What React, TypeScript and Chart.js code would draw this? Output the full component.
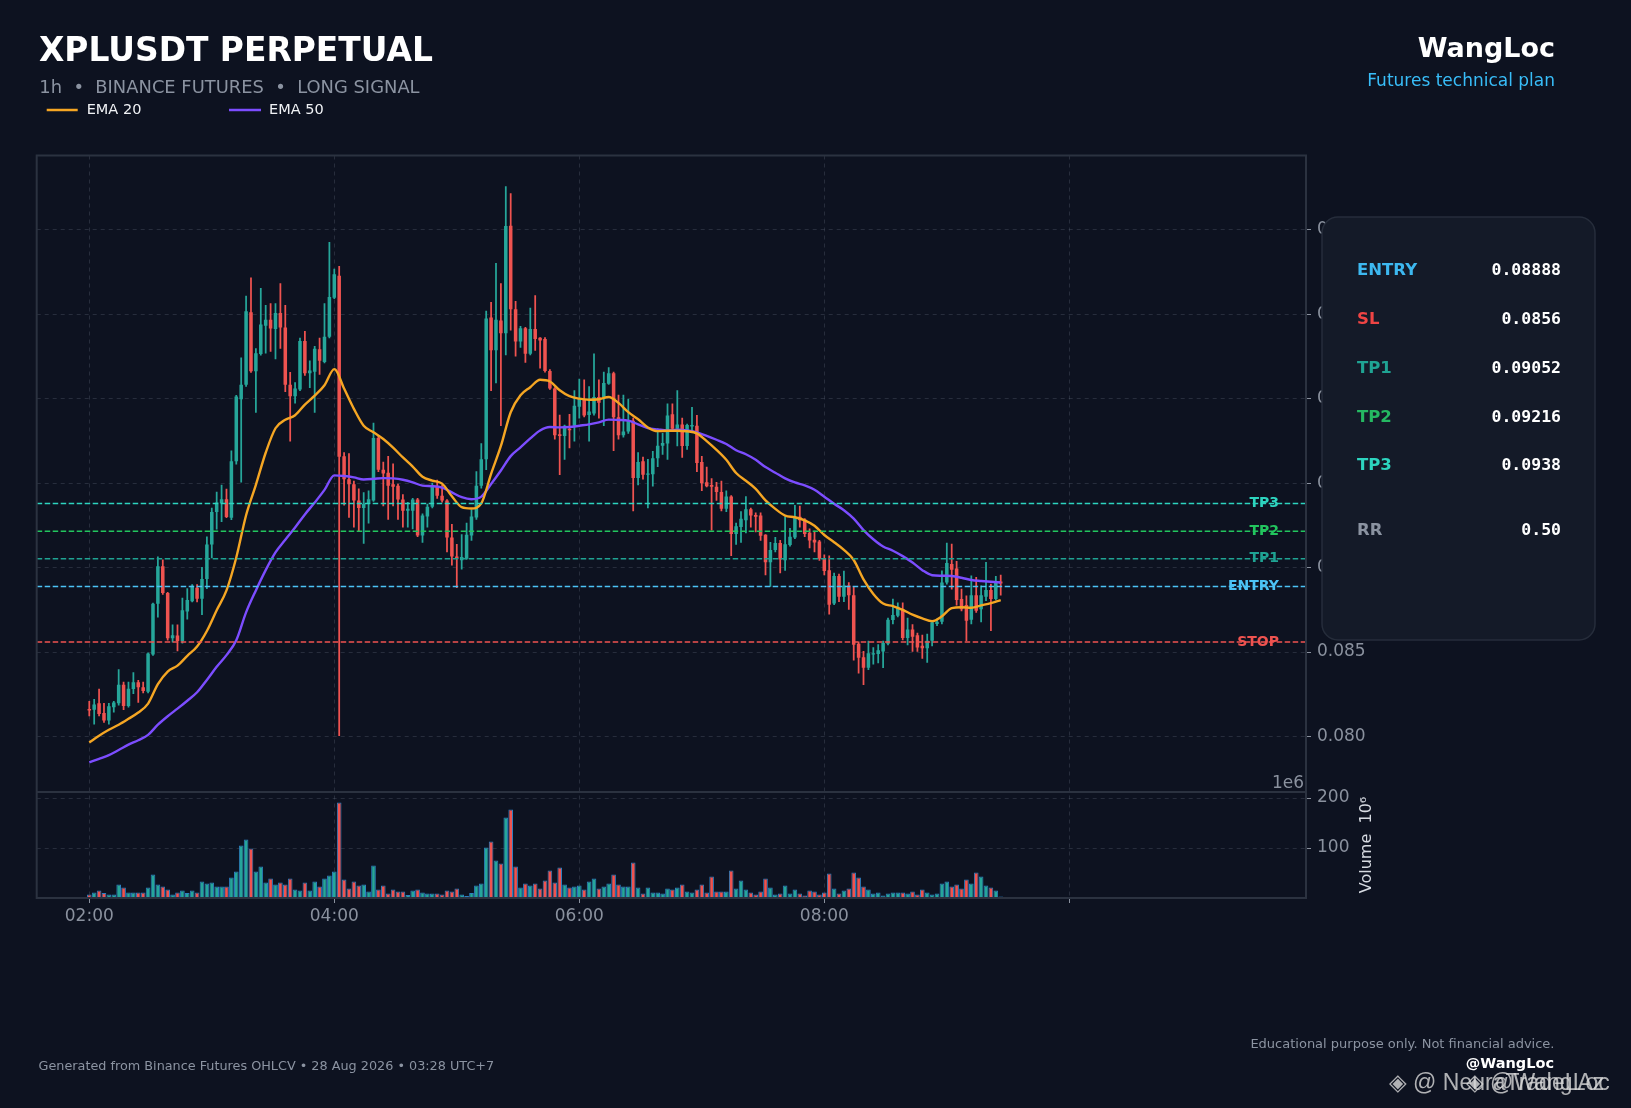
import React, { useEffect, useRef } from 'react';
import { Chart, registerables } from 'chart.js';

Chart.register(...registerables);

// ---------------- DATA ----------------
const opens = [
  0.08163,0.08159,0.08197,0.08140,0.08095,0.08174,0.08197,0.08306,0.08181,0.08281,
  0.08322,0.08292,0.08265,0.08485,0.08786,0.09008,0.08849,0.08582,0.08598,0.08566,
  0.08740,0.08801,0.08881,0.08815,0.08933,0.09137,0.09329,0.09381,0.09404,0.09295,
  0.09630,0.09997,0.10083,0.10511,0.10162,0.10264,0.10432,0.10468,0.10412,0.10507,
  0.10421,0.10083,0.10015,0.10054,0.10341,0.10151,0.10160,0.10292,0.10217,0.10366,
  0.10597,0.10728,0.09659,0.09523,0.09494,0.09398,0.09353,0.09376,0.09398,0.09767,
  0.09580,0.09561,0.09494,0.09484,0.09403,0.09337,0.09337,0.09403,0.09190,0.09303,
  0.09360,0.09478,0.09426,0.09398,0.09179,0.09066,0.09043,0.09052,0.09190,0.09297,
  0.09484,0.09641,0.10481,0.10286,0.10463,0.10388,0.11024,0.10530,0.10338,0.10417,
  0.10266,0.10413,0.10361,0.10354,0.10164,0.10060,0.09790,0.09779,0.09822,0.09840,
  0.09953,0.09998,0.09903,0.09912,0.10010,0.10010,0.10089,0.10150,0.09890,0.09783,
  0.09806,0.09869,0.09530,0.09629,0.09550,0.09552,0.09647,0.09722,0.09734,0.09908,
  0.09822,0.09847,0.09720,0.09835,0.09840,0.09625,0.09505,0.09489,0.09478,0.09448,
  0.09349,0.09421,0.09199,0.09240,0.09281,0.09346,0.09312,0.09308,0.09195,0.09032,
  0.09104,0.09145,0.09043,0.09134,0.09179,0.09301,0.09285,0.09206,0.09165,0.09154,
  0.09052,0.08984,0.08787,0.08950,0.08828,0.08894,0.08837,0.08549,0.08470,0.08407,
  0.08486,0.08488,0.08504,0.08549,0.08690,0.08715,0.08753,0.08583,0.08633,0.08599,
  0.08537,0.08522,0.08567,0.08666,0.08679,0.08912,0.09021,0.08995,0.08814,0.08778,
  0.08691,0.08837,0.08754,0.08827,0.08867,0.08814,0.08918,
];
const highs = [
  0.08208,0.08220,0.08281,0.08197,0.08197,0.08208,0.08396,0.08322,0.08322,0.08378,
  0.08333,0.08322,0.08496,0.08790,0.09064,0.09046,0.08854,0.08661,0.08661,0.08820,
  0.08876,0.08899,0.08899,0.09001,0.09182,0.09352,0.09447,0.09488,0.09465,0.09691,
  0.10020,0.10242,0.10608,0.10715,0.10296,0.10654,0.10552,0.10563,0.10563,0.10681,
  0.10552,0.10156,0.10095,0.10359,0.10398,0.10224,0.10310,0.10359,0.10563,0.10925,
  0.10767,0.10783,0.09681,0.09675,0.09512,0.09466,0.09444,0.09455,0.09856,0.09783,
  0.09625,0.09659,0.09614,0.09494,0.09432,0.09387,0.09410,0.09410,0.09319,0.09376,
  0.09500,0.09518,0.09489,0.09403,0.09256,0.09138,0.09195,0.09263,0.09342,0.09568,
  0.09734,0.10519,0.10571,0.10802,0.10682,0.11255,0.11214,0.10576,0.10429,0.10422,
  0.10537,0.10610,0.10361,0.10361,0.10173,0.10066,0.09903,0.09844,0.09908,0.10048,
  0.10116,0.10112,0.10071,0.10266,0.10112,0.10157,0.10184,0.10157,0.10021,0.10021,
  0.09998,0.09885,0.09681,0.09654,0.09641,0.09688,0.09822,0.09795,0.09969,0.09969,
  0.10048,0.09885,0.09850,0.09949,0.09901,0.09659,0.09595,0.09527,0.09505,0.09512,
  0.09455,0.09426,0.09263,0.09331,0.09421,0.09353,0.09324,0.09324,0.09195,0.09149,
  0.09179,0.09161,0.09301,0.09233,0.09369,0.09364,0.09290,0.09229,0.09217,0.09161,
  0.09075,0.09070,0.08968,0.08962,0.08980,0.08912,0.08889,0.08561,0.08504,0.08565,
  0.08527,0.08545,0.08565,0.08701,0.08814,0.08792,0.08792,0.08701,0.08663,0.08613,
  0.08601,0.08607,0.08685,0.08695,0.08981,0.09145,0.09139,0.09037,0.08873,0.08833,
  0.08951,0.08942,0.08892,0.09031,0.08902,0.08948,0.08956,
];
const lows = [
  0.08122,0.08073,0.08122,0.08084,0.08073,0.08145,0.08186,0.08159,0.08174,0.08254,
  0.08202,0.08258,0.08258,0.08480,0.08706,0.08842,0.08571,0.08559,0.08507,0.08553,
  0.08695,0.08797,0.08797,0.08722,0.08876,0.09057,0.09227,0.09272,0.09295,0.09284,
  0.09612,0.09506,0.10072,0.10156,0.09918,0.10257,0.10269,0.10280,0.10235,0.10298,
  0.10042,0.09748,0.09974,0.10047,0.10137,0.10065,0.09918,0.10144,0.10212,0.10359,
  0.10592,0.08005,0.09369,0.09297,0.09240,0.09217,0.09143,0.09263,0.09392,0.09568,
  0.09365,0.09285,0.09365,0.09285,0.09240,0.09240,0.09229,0.09183,0.09149,0.09240,
  0.09353,0.09410,0.09387,0.09093,0.09014,0.08882,0.08991,0.09048,0.09161,0.09285,
  0.09471,0.09580,0.10048,0.10094,0.09840,0.10259,0.10406,0.10252,0.10304,0.10214,
  0.10259,0.10286,0.10180,0.10157,0.10055,0.09761,0.09550,0.09641,0.09709,0.09749,
  0.09885,0.09892,0.09749,0.09903,0.09885,0.09840,0.10084,0.09693,0.09761,0.09772,
  0.09795,0.09335,0.09489,0.09523,0.09353,0.09482,0.09598,0.09670,0.09641,0.09806,
  0.09720,0.09652,0.09700,0.09806,0.09568,0.09455,0.09478,0.09222,0.09398,0.09335,
  0.09331,0.09070,0.09138,0.09149,0.09206,0.09240,0.09211,0.09161,0.08957,0.08889,
  0.09093,0.08968,0.08984,0.09127,0.09172,0.09240,0.09183,0.09116,0.09093,0.09043,
  0.08957,0.08724,0.08780,0.08798,0.08798,0.08753,0.08452,0.08375,0.08307,0.08396,
  0.08429,0.08436,0.08407,0.08543,0.08667,0.08708,0.08572,0.08543,0.08504,0.08504,
  0.08463,0.08439,0.08537,0.08656,0.08666,0.08902,0.08873,0.08778,0.08744,0.08567,
  0.08666,0.08735,0.08679,0.08804,0.08626,0.08809,0.08837,
];
const closes = [
  0.08154,0.08190,0.08134,0.08095,0.08179,0.08202,0.08306,0.08181,0.08283,0.08322,
  0.08292,0.08270,0.08491,0.08786,0.09008,0.08849,0.08582,0.08600,0.08566,0.08747,
  0.08808,0.08892,0.08815,0.08933,0.09137,0.09329,0.09386,0.09404,0.09300,0.09630,
  0.10013,0.10083,0.10518,0.10162,0.10269,0.10439,0.10468,0.10416,0.10507,0.10421,
  0.10083,0.10015,0.10061,0.10341,0.10151,0.10167,0.10296,0.10224,0.10366,0.10602,
  0.10737,0.09657,0.09523,0.09494,0.09398,0.09353,0.09376,0.09405,0.09767,0.09580,
  0.09557,0.09484,0.09478,0.09403,0.09337,0.09349,0.09403,0.09190,0.09308,0.09360,
  0.09478,0.09426,0.09398,0.09179,0.09066,0.09052,0.09063,0.09195,0.09303,0.09484,
  0.09641,0.10474,0.10286,0.10467,0.10388,0.11022,0.10530,0.10338,0.10417,0.10266,
  0.10413,0.10354,0.10345,0.10164,0.10060,0.09783,0.09779,0.09840,0.09813,0.09958,
  0.09998,0.09901,0.09924,0.10010,0.09976,0.10093,0.10150,0.09890,0.09783,0.09806,
  0.09869,0.09530,0.09625,0.09550,0.09557,0.09647,0.09722,0.09738,0.09901,0.09822,
  0.09847,0.09720,0.09844,0.09844,0.09620,0.09500,0.09482,0.09478,0.09448,0.09349,
  0.09421,0.09199,0.09245,0.09290,0.09346,0.09308,0.09301,0.09188,0.09032,0.09104,
  0.09145,0.09048,0.09138,0.09183,0.09297,0.09281,0.09199,0.09161,0.09149,0.09052,
  0.08980,0.08780,0.08950,0.08828,0.08894,0.08837,0.08543,0.08466,0.08407,0.08493,
  0.08493,0.08511,0.08554,0.08692,0.08719,0.08769,0.08583,0.08633,0.08590,0.08527,
  0.08522,0.08567,0.08676,0.08679,0.08912,0.09027,0.08987,0.08809,0.08754,0.08685,
  0.08837,0.08744,0.08837,0.08867,0.08814,0.08912,0.08906,
];
// volume in millions
const volumeM = [
  7,11,15,10,7,7,27,21,11,11,
  11,11,21,47,27,23,17,7,11,15,
  10,15,11,33,29,31,23,23,23,41,
  53,105,117,99,53,63,31,39,27,31,
  27,39,17,15,31,15,33,23,39,45,
  53,191,37,19,33,25,27,13,65,17,
  25,9,17,13,13,6,15,17,11,9,
  9,9,7,15,13,19,7,4,10,25,
  29,101,113,75,69,161,177,63,21,29,
  25,29,19,35,55,31,61,27,21,23,
  25,17,33,39,19,23,29,47,27,23,
  23,71,21,9,21,11,11,9,19,17,
  21,27,13,11,17,27,11,43,13,13,
  13,55,19,35,17,11,7,13,39,21,
  7,9,25,9,17,9,5,15,13,7,
  11,49,19,9,15,19,51,41,23,17,
  9,11,5,9,11,11,11,9,13,7,
  17,11,7,9,29,33,23,27,19,37,
  29,51,43,25,21,15,3,
];
// EMA values read every 2nd candle (candle index = 2 * k)
const ema20 = [
  0.07965,0.08005,0.08040,0.08070,0.08105,0.08142,0.08195,0.08310,0.08385,0.08420,
  0.08478,0.08533,0.08625,0.08748,0.08865,0.09060,0.09310,0.09490,0.09680,0.09825,
  0.09875,0.09902,0.09965,0.10018,0.10080,0.10175,0.10060,0.09940,0.09840,0.09801,
  0.09761,0.09710,0.09652,0.09598,0.09538,0.09515,0.09497,0.09422,0.09358,0.09350,
  0.09380,0.09555,0.09720,0.09920,0.10020,0.10068,0.10112,0.10102,0.10050,0.10015,
  0.10000,0.09994,0.09997,0.10010,0.09975,0.09920,0.09878,0.09830,0.09808,0.09810,
  0.09810,0.09807,0.09795,0.09749,0.09697,0.09638,0.09560,0.09514,0.09466,0.09398,
  0.09348,0.09308,0.09298,0.09280,0.09248,0.09193,0.09150,0.09105,0.09045,0.08930,
  0.08844,0.08787,0.08772,0.08750,0.08722,0.08700,0.08683,0.08712,0.08760,0.08765,
  0.08762,0.08776,0.08790,0.08808,
];
const ema50 = [
  0.07847,0.07868,0.07890,0.07920,0.07952,0.07978,0.08010,0.08070,0.08120,0.08165,
  0.08212,0.08262,0.08335,0.08413,0.08482,0.08570,0.08735,0.08865,0.08985,0.09090,
  0.09165,0.09238,0.09315,0.09385,0.09460,0.09546,0.09542,0.09534,0.09522,0.09525,
  0.09530,0.09528,0.09520,0.09505,0.09485,0.09482,0.09474,0.09445,0.09417,0.09405,
  0.09420,0.09495,0.09575,0.09660,0.09712,0.09765,0.09812,0.09832,0.09830,0.09832,
  0.09840,0.09848,0.09860,0.09876,0.09874,0.09870,0.09848,0.09826,0.09818,0.09812,
  0.09816,0.09812,0.09800,0.09780,0.09757,0.09732,0.09695,0.09671,0.09638,0.09595,
  0.09562,0.09528,0.09504,0.09487,0.09461,0.09420,0.09378,0.09340,0.09290,0.09222,
  0.09168,0.09125,0.09100,0.09068,0.09030,0.08985,0.08955,0.08952,0.08950,0.08940,
  0.08927,0.08921,0.08916,0.08912,
];
const xTickIdx = [0, 50, 100, 150, 200];
const xTickLabels = ['02:00', '04:00', '06:00', '08:00', ''];
const priceTicks = [0.08, 0.085, 0.09, 0.095, 0.1, 0.105, 0.11];
const volumeTicks = [100, 200];

const levelTags = ['TP3', 'TP2', 'TP1', 'ENTRY', 'STOP'];
const levelValues = [0.0938, 0.09216, 0.09052, 0.08888, 0.0856];

const panelLabels = ['ENTRY', 'SL', 'TP1', 'TP2', 'TP3', 'RR'];
const panelValues = ['0.08888', '0.0856', '0.09052', '0.09216', '0.0938', '0.50'];

// ---------------- STYLE ----------------
const W = 1631;
const H = 1108;
const BG = '#0d1220';
const UP = '#26a69a';
const DOWN = '#ef5350';
const GRID = 'rgba(130,140,160,0.22)';
const TICK = '#8a919e';
const FRAME = '#2b3240';
const SANS = '"DejaVu Sans", sans-serif';
const MONO = '"DejaVu Sans Mono", monospace';
const levelColors = ['#2dd4bf', '#22c55e', '#1fa393', '#4cc3f5', '#ef5350'];
const panelColors = ['#3db8f0', '#ef4444', '#1fa393', '#25b862', '#2dd4bf', '#8b93a1'];
const panelRowY = [271, 320, 368.3, 417.3, 465.7, 531];

const X_MIN = -10.73;
const X_MAX = 248.3;
const P_MIN = 0.076717;
const P_MAX = 0.114396;
const V_MAX = 212;

const candleColors = opens.map((o, i) => (closes[i] >= o ? UP : DOWN));

function txt(
  ctx: CanvasRenderingContext2D,
  s: string,
  x: number,
  y: number,
  font: string,
  color: string,
  align: CanvasTextAlign = 'left',
  baseline: CanvasTextBaseline = 'alphabetic'
) {
  ctx.font = font;
  ctx.fillStyle = color;
  ctx.textAlign = align;
  ctx.textBaseline = baseline;
  ctx.fillText(s, x, y);
}

const overlayPlugin = {
  id: 'overlay',
  afterDatasetsDraw(chart: any) {
    const { ctx, chartArea: a } = chart;
    const y = chart.scales.y;
    ctx.save();
    ctx.beginPath();
    ctx.rect(a.left, y.top, a.right - a.left, y.bottom - y.top);
    ctx.clip();
    levelValues.forEach((v, k) => {
      const py = y.getPixelForValue(v);
      txt(ctx, levelTags[k], a.right - 27, py, `bold 14px ${SANS}`, levelColors[k], 'right', 'middle');
      ctx.setLineDash([5.5, 2.5]);
      ctx.lineWidth = 1.5;
      ctx.strokeStyle = levelColors[k];
      ctx.beginPath();
      ctx.moveTo(a.left, py);
      ctx.lineTo(a.right, py);
      ctx.stroke();
    });
    ctx.restore();
  },
  afterDraw(chart: any) {
    const { ctx, chartArea: a } = chart;
    const y = chart.scales.y;
    ctx.save();
    // frame
    ctx.setLineDash([]);
    ctx.strokeStyle = FRAME;
    ctx.lineWidth = 2;
    ctx.strokeRect(a.left, a.top, a.right - a.left, a.bottom - a.top);
    ctx.beginPath();
    ctx.moveTo(a.left, y.bottom);
    ctx.lineTo(a.right, y.bottom);
    ctx.stroke();

    // offset text for volume
    txt(ctx, '1e6', a.right - 2, y.bottom - 4, `17px ${SANS}`, TICK, 'right');

    // volume axis title
    ctx.save();
    ctx.translate(1371, 845);
    ctx.rotate(-Math.PI / 2);
    txt(ctx, 'Volume  10⁶', 0, 0, `16px ${SANS}`, '#d6dae1', 'center', 'alphabetic');
    ctx.restore();

    // title block
    txt(ctx, 'XPLUSDT PERPETUAL', 39, 60.7, `bold 32.9px ${SANS}`, '#ffffff');
    txt(ctx, '1h  •  BINANCE FUTURES  •  LONG SIGNAL', 39.3, 92.7, `17.9px ${SANS}`, '#8b93a1');

    // legend
    ctx.lineWidth = 2.5;
    ctx.strokeStyle = '#f5a623';
    ctx.beginPath();
    ctx.moveTo(46.7, 110);
    ctx.lineTo(77.7, 110);
    ctx.stroke();
    txt(ctx, 'EMA 20', 86.7, 114.3, `14.5px ${SANS}`, '#f0f2f5');
    ctx.strokeStyle = '#7c4dff';
    ctx.beginPath();
    ctx.moveTo(229, 110);
    ctx.lineTo(261, 110);
    ctx.stroke();
    txt(ctx, 'EMA 50', 269, 114.3, `14.5px ${SANS}`, '#f0f2f5');

    // right header
    txt(ctx, 'WangLoc', 1555, 56.5, `bold 27px ${SANS}`, '#ffffff', 'right');
    txt(ctx, 'Futures technical plan', 1555, 86, `17px ${SANS}`, '#38bdf8', 'right');

    // info panel
    ctx.beginPath();
    (ctx as any).roundRect(1322, 217, 273, 423, 16);
    ctx.fillStyle = '#141a28';
    ctx.fill();
    ctx.lineWidth = 1.5;
    ctx.strokeStyle = '#262d3b';
    ctx.stroke();
    panelLabels.forEach((lab, k) => {
      txt(ctx, lab, 1357, panelRowY[k], `bold 16.5px ${SANS}`, panelColors[k], 'left', 'middle');
      txt(ctx, panelValues[k], 1561, panelRowY[k], `bold 16.5px ${MONO}`, '#ffffff', 'right', 'middle');
    });

    // footer
    txt(ctx, 'Generated from Binance Futures OHLCV • 28 Aug 2026 • 03:28 UTC+7', 38.5, 1069.5, `12.8px ${SANS}`, '#8b93a1');
    txt(ctx, 'Educational purpose only. Not financial advice.', 1554.5, 1048.3, `13px ${SANS}`, '#8b93a1', 'right');
    txt(ctx, '@WangLoc', 1554, 1068.3, `bold 14.5px ${SANS}`, '#ffffff', 'right');

    // platform watermark
    ctx.globalAlpha = 0.8;
    txt(ctx, '◈ @ NeuraTradeLAz', 1389, 1090, `23px "Liberation Sans", ${SANS}`, '#d9d9d9');
    txt(ctx, '◈ @WangLoc', 1466, 1090, `23px "Liberation Sans", ${SANS}`, '#d9d9d9');
    ctx.globalAlpha = 1;
    ctx.restore();
  },
};

export default function App() {
  const ref = useRef<HTMLCanvasElement>(null);

  useEffect(() => {
    document.body.style.margin = '0';
    document.body.style.background = BG;
    Chart.defaults.font.family = SANS;

    const idx = opens.map((_, i) => i);
    const wickData = idx.map((i) => ({ x: i, y: [lows[i], highs[i]] }));
    const bodyData = idx.map((i) => ({ x: i, y: [opens[i], closes[i]] }));
    const volData = idx.map((i) => ({ x: i, y: volumeM[i] }));
    const e20 = ema20.map((v, k) => ({ x: 2 * k, y: v }));
    const e50 = ema50.map((v, k) => ({ x: 2 * k, y: v }));

    const tickFont = { family: SANS, size: 17 };

    const chart = new Chart(ref.current as HTMLCanvasElement, {
      type: 'bar',
      data: {
        datasets: [
          {
            type: 'line',
            label: 'EMA 20',
            data: e20,
            yAxisID: 'y',
            borderColor: '#f5a623',
            borderWidth: 2.4,
            pointRadius: 0,
            cubicInterpolationMode: 'monotone',
            order: 0,
          } as any,
          {
            type: 'line',
            label: 'EMA 50',
            data: e50,
            yAxisID: 'y',
            borderColor: '#7c4dff',
            borderWidth: 2.4,
            pointRadius: 0,
            cubicInterpolationMode: 'monotone',
            order: 1,
          } as any,
          {
            label: 'body',
            data: bodyData,
            yAxisID: 'y',
            backgroundColor: candleColors,
            borderWidth: 0,
            barPercentage: 0.72,
            categoryPercentage: 1,
            grouped: false,
            minBarLength: 1,
            order: 2,
          } as any,
          {
            label: 'wick',
            data: wickData,
            yAxisID: 'y',
            backgroundColor: candleColors,
            borderWidth: 0,
            barThickness: 1.1,
            grouped: false,
            order: 3,
          } as any,
          {
            label: 'volume',
            data: volData,
            yAxisID: 'yv',
            backgroundColor: candleColors,
            borderColor: '#2d7fc0',
            borderWidth: 1,
            barPercentage: 0.95,
            categoryPercentage: 1,
            grouped: false,
            order: 4,
          } as any,
        ],
      },
      options: {
        responsive: false,
        animation: false,
        events: [],
        layout: { padding: { left: 36.7, top: 155.5, right: W - 1306 - 70, bottom: H - 898 - 40 } },
        plugins: { legend: { display: false }, tooltip: { enabled: false } },
        scales: {
          x: {
            type: 'linear',
            min: X_MIN,
            max: X_MAX,
            offset: false,
            afterBuildTicks: (s: any) => {
              s.ticks = xTickIdx.map((v) => ({ value: v }));
            },
            afterFit: (s: any) => {
              s.height = 40;
            },
            grid: {
              offset: false,
              color: GRID,
              lineWidth: 1,
              drawTicks: true,
              tickLength: 5,
              tickColor: TICK,
              tickWidth: 1,
            },
            border: { display: false, dash: [4, 4] },
            ticks: {
              font: tickFont,
              color: TICK,
              padding: 3,
              maxRotation: 0,
              autoSkip: false,
              callback: (v: any) => {
                const k = xTickIdx.indexOf(Number(v));
                return k >= 0 ? xTickLabels[k] : '';
              },
            },
          },
          y: {
            type: 'linear',
            position: 'right',
            stack: 'panes',
            stackWeight: 636.5,
            min: P_MIN,
            max: P_MAX,
            afterBuildTicks: (s: any) => {
              s.ticks = priceTicks.map((v) => ({ value: v }));
            },
            afterFit: (s: any) => {
              s.width = 70;
            },
            grid: { color: GRID, lineWidth: 1, drawTicks: true, tickLength: 5, tickColor: TICK, tickWidth: 1 },
            border: { display: false, dash: [4, 4] },
            ticks: {
              font: tickFont,
              color: TICK,
              padding: 6,
              callback: (v: any) => Number(v).toFixed(3),
            },
          },
          yv: {
            type: 'linear',
            position: 'right',
            stack: 'panes',
            stackWeight: 106,
            min: 0,
            max: V_MAX,
            afterBuildTicks: (s: any) => {
              s.ticks = volumeTicks.map((v) => ({ value: v }));
            },
            afterFit: (s: any) => {
              s.width = 70;
            },
            grid: { color: GRID, lineWidth: 1, drawTicks: true, tickLength: 5, tickColor: TICK, tickWidth: 1 },
            border: { display: false, dash: [4, 4] },
            ticks: {
              font: tickFont,
              color: TICK,
              padding: 6,
              callback: (v: any) => String(v),
            },
          },
        },
      } as any,
      plugins: [overlayPlugin],
    });

    return () => chart.destroy();
  }, []);

  return (
    <div style={{ position: 'absolute', left: 0, top: 0, width: W, height: H, background: BG, overflow: 'hidden' }}>
      <canvas ref={ref} width={W} height={H} style={{ display: 'block', width: W, height: H }} />
    </div>
  );
}
